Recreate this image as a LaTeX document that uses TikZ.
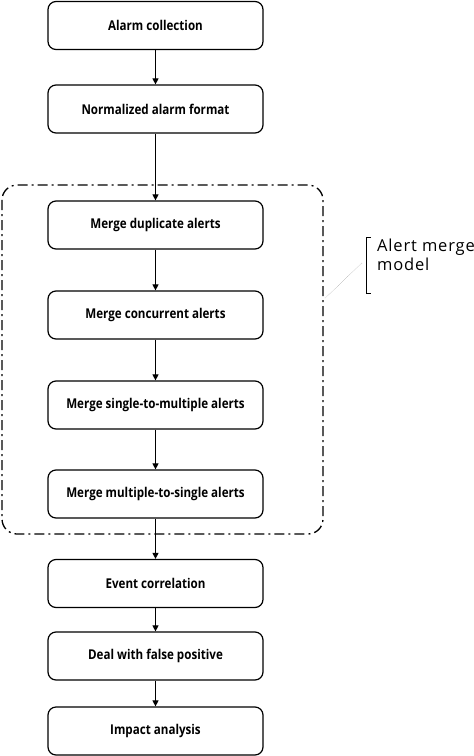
\documentclass[tikz,border=0pt]{standalone}
\usepackage{fontspec}
\setmainfont{Open Sans}
\newfontfamily\boxfont[FakeStretch=0.86]{Open Sans}
\newfontfamily\notefont[LetterSpace=5]{Open Sans}
\usetikzlibrary{arrows.meta}
\tikzset{
    stage/.style={draw, line width=1.2pt, rounded corners=8pt, minimum width=215pt, minimum height=48pt, font=\boxfont\fontsize{13.5}{15}\selectfont\bfseries},
    flow/.style={line width=1pt, -{Triangle[length=6pt,width=6pt]}}
}
\begin{document}
\begin{tikzpicture}[x=1pt,y=-1pt]
            \useasboundingbox (0,0) rectangle (474,756);
            \node[stage] (collect) at (155.5,25.5) {Alarm collection};
            \node[stage] (normal) at (155.5,109) {Normalized alarm format};
            \node[stage] (dup) at (155.5,225) {Merge duplicate alerts};
            \node[stage] (conc) at (155.5,315) {Merge concurrent alerts};
            \node[stage] (s2m) at (155.5,405) {Merge single-to-multiple alerts};
            \node[stage] (m2s) at (155.5,494) {Merge multiple-to-single alerts};
            \node[stage] (corr) at (155.5,583.5) {Event correlation};
            \node[stage] (fp) at (155.5,656) {Deal with false positive};
            \node[stage] (impact) at (155.5,731) {Impact analysis};

            \draw[flow] (collect) -- (normal);
            \draw[flow] (normal) -- (dup);
            \draw[flow] (dup) -- (conc);
            \draw[flow] (conc) -- (s2m);
            \draw[flow] (s2m) -- (m2s);
            \draw[flow] (m2s) -- (corr);
            \draw[flow] (corr) -- (fp);
            \draw[flow] (fp) -- (impact);

            \draw[line width=1.3pt, dash pattern=on 10pt off 4pt on 2pt off 4pt, rounded corners=15pt] (2,185) rectangle (323,534);
            \coordinate (merge) at (325,298);
            \coordinate (bend) at (362,263);
            \draw[gray, densely dotted] (merge) -- (bend);
            \draw[line width=1pt] (371,237) -- (366,237) -- (366,293) -- (371,293);
            \node[anchor=north west, align=left, inner sep=0pt, font=\notefont\fontsize{16.5}{19}\selectfont] (label) at (377,239) {Alert merge\\model};
    \end{tikzpicture}
\end{document}
